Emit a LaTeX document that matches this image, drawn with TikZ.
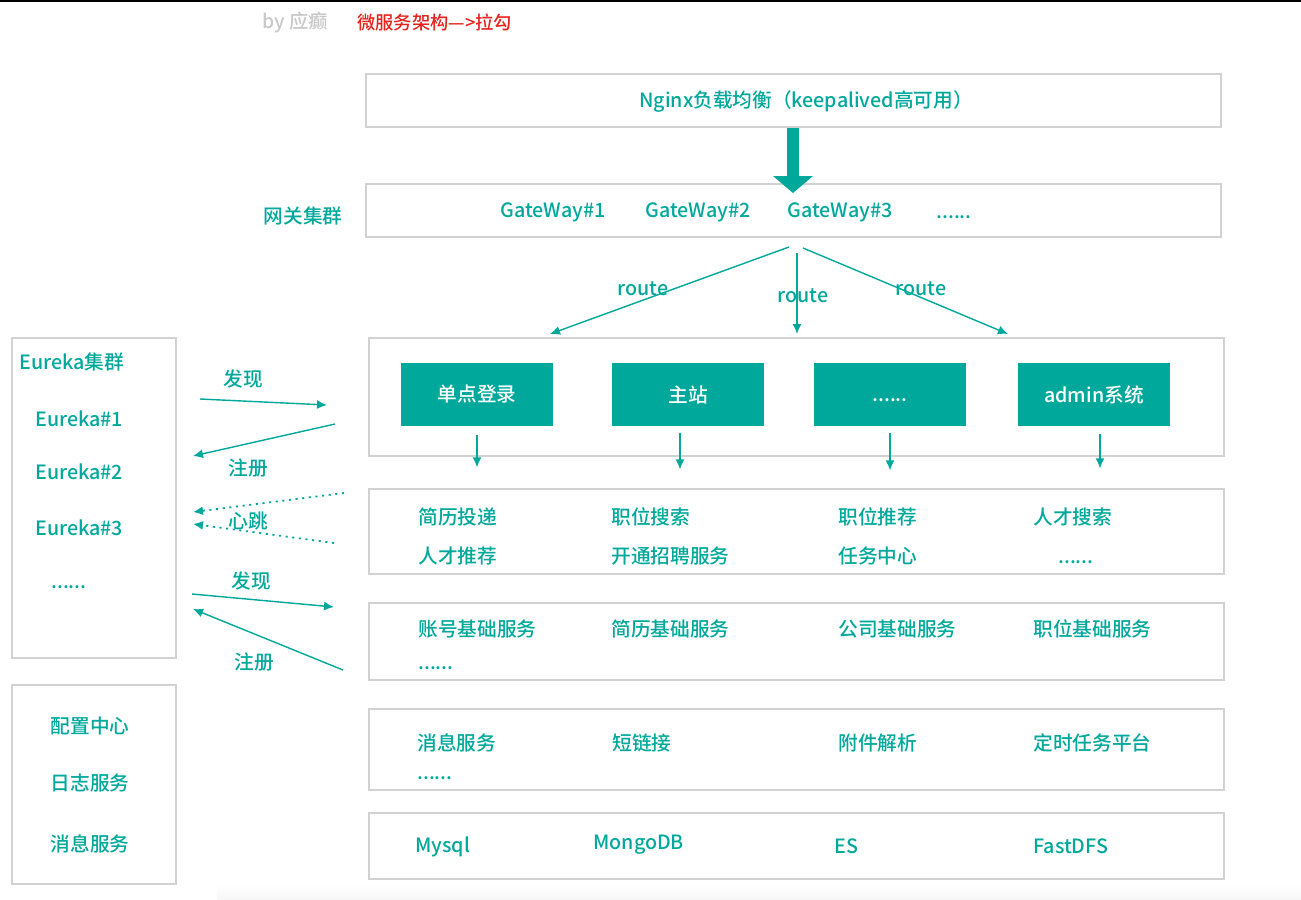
\documentclass[tikz,border=0pt]{standalone}
\usepackage{fontspec}
\setmainfont{Noto Sans CJK SC}[UprightFont={* Medium}]
\usepackage{tikz}
\usetikzlibrary{arrows.meta, positioning, fit, calc}
\definecolor{jade}{RGB}{0,168,155}
\definecolor{frame}{RGB}{210,210,210}
\definecolor{alert}{RGB}{228,35,28}
\definecolor{faint}{RGB}{200,200,200}

\begin{document}
\begin{tikzpicture}[
        x=0.02cm, y=-0.02cm,
        every node/.style={font=\fontsize{11.2}{13}\selectfont, text=jade, inner sep=0pt},
        panel/.style={draw=frame, line width=0.7pt, inner sep=0pt},
        svc/.style={fill=jade, inner sep=0pt},
        item/.style={anchor=west},
        small/.style={font=\fontsize{10.4}{12}\selectfont, anchor=west},
        arrowstyle/.style={-{Latex[length=2mm, width=1.8mm]}, line width=0.8pt, jade},
        beat/.style={arrowstyle, dash pattern=on 1.2pt off 2.6pt, line width=1pt}
    ]
        \useasboundingbox (0,0) rectangle (1301,899);
        \draw[black, line width=0.034cm] (0,0.85) -- (1301,0.85);
        \fill[top color=white, bottom color=black!3] (217,885) rectangle (1301,899);

        \node[small, text=faint, font=\fontsize{11}{12}\selectfont] (byline) at (262,22) {by 应癫};
        \node[small, text=alert] (topic) at (357,22) {微服务架构—>拉勾};

        \node[panel, fit={(366,74) (1221,127)}] (nginx) {};
        \node (nginxtxt) at (806,101) {Nginx负载均衡（keepalived高可用）};

        \node[panel, fit={(366,184) (1221,237)}] (gw) {};
        \node[anchor=east] (gwlabel) at (343,216) {网关集群};
        \node (gw1) at (553,212) {GateWay\#1};
        \node (gw2) at (698,212) {GateWay\#2};
        \node (gw3) at (840,212) {GateWay\#3};
        \node (gwmore) at (954,217) {......};

        \coordinate (pushtip) at (793,193);
        \draw[jade, line width=0.24cm, -{Triangle[length=0.34cm, width=0.8cm, line width=0pt]}]
            (nginx.south -| pushtip) -- (pushtip);

        \node[panel, fit={(369,338) (1224,456)}] (apps) {};
        \node[svc, fit={(401,363) (553,426)}] (sso) {};
        \node[svc, fit={(612,363) (764,426)}] (portal) {};
        \node[svc, fit={(814,363) (966,426)}] (appmore) {};
        \node[svc, fit={(1018,363) (1170,426)}] (admin) {};
        \node[text=white] (ssotxt) at (sso.center) {单点登录};
        \node[text=white] (portaltxt) at (portal.center) {主站};
        \node[text=white] (appmoretxt) at ($(appmore.center)+(0,6)$) {......};
        \node[text=white] (admintxt) at (admin.center) {admin系统};

        \coordinate (rl0) at (789,247); \coordinate (rl1) at (550,334);
        \coordinate (rm0) at (797,253); \coordinate (rm1) at (797,334);
        \coordinate (rr0) at (803,248); \coordinate (rr1) at (1008,334);
        \draw[arrowstyle] (rl0) -- (rl1);
        \draw[arrowstyle] (rm0) -- (rm1);
        \draw[arrowstyle] (rr0) -- (rr1);
        \node (route1) at (643,289) {route};
        \node (route2) at (803,296) {route};
        \node (route3) at (921,289) {route};

        \draw[arrowstyle] ($(sso.south)+(0,9)$) -- ++(0,32);
        \draw[arrowstyle] ($(portal.south)+(-8,7)$) -- ++(0,36);
        \draw[arrowstyle] ($(appmore.south)+(0,7)$) -- ++(0,37);
        \draw[arrowstyle] ($(admin.south)+(6,8)$) -- ++(0,34);

        \node[panel, fit={(369,489) (1224,574)}] (biz) {};
        \node[item] (biz1) at (418,517) {简历投递};
        \node[item] (biz2) at (611,517) {职位搜索};
        \node[item] (biz3) at (838,517) {职位推荐};
        \node[item] (biz4) at (1033,517) {人才搜索};
        \node[item] (biz5) at (418,556) {人才推荐};
        \node[item] (biz6) at (611,556) {开通招聘服务};
        \node[item] (biz7) at (838,556) {任务中心};
        \node[item] (biz8) at (1058,562) {......};

        \node[panel, fit={(369,603) (1224,680)}] (base) {};
        \node[item] (base1) at (418,629) {账号基础服务};
        \node[item] (base2) at (611,629) {简历基础服务};
        \node[item] (base3) at (838,629) {公司基础服务};
        \node[item] (base4) at (1033,629) {职位基础服务};
        \node[item] (base5) at (418,668) {......};

        \node[panel, fit={(369,709) (1224,790)}] (common) {};
        \node[item] (common1) at (417,743) {消息服务};
        \node[item] (common2) at (612,743) {短链接};
        \node[item] (common3) at (838,743) {附件解析};
        \node[item] (common4) at (1033,743) {定时任务平台};
        \node[item] (common5) at (417,778) {......};

        \node[panel, fit={(369,813) (1224,879)}] (store) {};
        \node[item] (store1) at (415,847) {Mysql};
        \node[item] (store2) at (593,845) {MongoDB};
        \node[item] (store3) at (834,846) {ES};
        \node[item] (store4) at (1033,846) {FastDFS};

        \node[panel, fit={(12,338) (176,658)}] (eureka) {};
        \node[item] (eurekatitle) at (19,362) {Eureka集群};
        \node[item] (eureka1) at (35,419) {Eureka\#1};
        \node[item] (eureka2) at (35,472) {Eureka\#2};
        \node[item] (eureka3) at (35,528) {Eureka\#3};
        \node[item] (eurekamore) at (51,587) {......};

        \node[panel, fit={(12,685) (176,884)}] (infra) {};
        \node (infra1) at (90,726) {配置中心};
        \node (infra2) at (90,783) {日志服务};
        \node (infra3) at (90,844) {消息服务};

        \coordinate (fa0) at (200,399); \coordinate (fa1) at (327,405);
        \coordinate (ra0) at (335,424); \coordinate (ra1) at (193,456);
        \coordinate (ha0) at (344,493); \coordinate (ha1) at (193,512);
        \coordinate (hb0) at (334,543); \coordinate (hb1) at (193,524);
        \coordinate (fb0) at (192,594); \coordinate (fb1) at (334,607);
        \coordinate (rb0) at (343,670); \coordinate (rb1) at (193,609);
        \draw[arrowstyle] (fa0) -- (fa1);
        \draw[arrowstyle] (ra0) -- (ra1);
        \draw[beat] (ha0) -- (ha1);
        \draw[beat] (hb0) -- (hb1);
        \draw[arrowstyle] (fb0) -- (fb1);
        \draw[arrowstyle] (rb0) -- (rb1);
        \node (find1) at (243,379) {发现};
        \node (reg1) at (248,468) {注册};
        \node (beatlabel) at (248,521) {心跳};
        \node (find2) at (251,581) {发现};
        \node (reg2) at (254,662) {注册};
    \end{tikzpicture}
\end{document}
